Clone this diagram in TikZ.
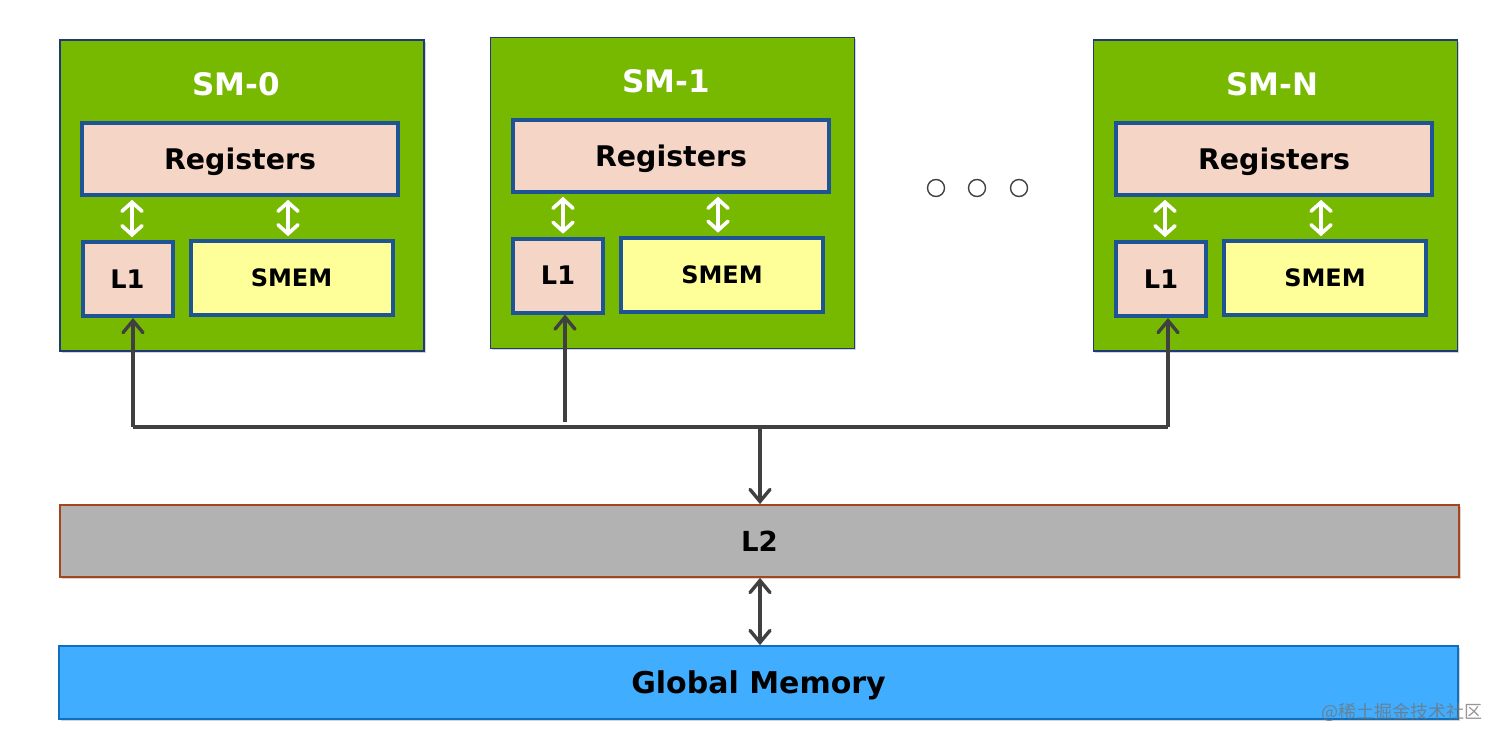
\documentclass[tikz,border=0pt]{standalone}
\usepackage{fontspec}
\setmainfont{DejaVu Sans}
\newfontfamily\cjkfont{Noto Sans CJK SC}
\usetikzlibrary{arrows.meta,shadows}
\definecolor{smgreen}{HTML}{77B900}
\definecolor{smborder}{HTML}{1F3A78}
\definecolor{peach}{HTML}{F5D5C5}
\definecolor{paleyellow}{HTML}{FFFF99}
\definecolor{innerblue}{HTML}{1F5494}
\definecolor{ltwogray}{HTML}{B2B2B2}
\definecolor{ltwoborder}{HTML}{A5451C}
\definecolor{gmblue}{HTML}{41ADFF}
\definecolor{gmborder}{HTML}{1070C0}
\definecolor{darkline}{HTML}{404040}
\tikzset{
  capcentre/.style={text height=#1,text depth=0pt},
  softshadow/.style={drop shadow={shadow xshift=0.9pt,shadow yshift=-0.9pt,opacity=0.28,fill=black!60}},
  smbox/.style={draw=smborder,line width=0.6pt,fill=smgreen,minimum width=182pt,minimum height=155.5pt,inner sep=0pt,softshadow},
  smtitle/.style={text=white,font=\fontsize{15.5}{18}\selectfont\bfseries},
  inner/.style={draw=innerblue,line width=2pt,inner sep=0pt,text=black},
  regbox/.style={inner,fill=peach,minimum width=158pt,minimum height=36pt,capcentre=10.4pt,font=\fontsize{14.2}{17}\selectfont\bfseries},
  lonebox/.style={inner,fill=peach,minimum width=45pt,minimum height=37pt,font=\fontsize{12.8}{15}\selectfont\bfseries},
  smembox/.style={inner,fill=paleyellow,minimum width=101pt,minimum height=37pt,font=\fontsize{12}{14}\selectfont\bfseries},
  whitearr/.style={draw=white,line width=1.8pt,line cap=round,{Straight Barb[length=4.5pt,width=10pt,line cap=round]}-{Straight Barb[length=4.5pt,width=10pt,line cap=round]},shorten <=1.4pt,shorten >=1.4pt},
  darkarr/.style={draw=darkline,line width=1.7pt},
  darkhead/.tip={Straight Barb[length=6pt,width=10pt,line cap=round]},
  darktip/.style={darkarr,-darkhead},
  ringdot/.style={circle,draw=darkline,line width=0.7pt,minimum size=8.5pt,inner sep=0pt},
  wide/.style={minimum width=699.5pt,minimum height=36pt,inner sep=0pt,text=black,font=\fontsize{13.8}{16}\selectfont\bfseries,softshadow}
}
\begin{document}
\begin{tikzpicture}[x=0.5pt,y=-0.5pt]
\useasboundingbox (0,0) rectangle (1507,744);
% SM boxes
\node[smbox] (sm0) at (242,195.5) {};
\node[smbox] (sm1) at (672.5,193) {};
\node[smbox] (smn) at (1275.5,195.5) {};
\node[smtitle] (t0) at (236,84) {SM-0};
\node[smtitle] (t1) at (666,81) {SM-1};
\node[smtitle] (tn) at (1272,84) {SM-N};
% inner boxes SM-0
\node[regbox] (r0) at (240,159) {Registers};
\node[lonebox] (la) at (127.5,279) {L1};
\node[smembox] (sa) at (291.5,278) {SMEM};
% SM-1
\node[regbox] (r1) at (671,156) {Registers};
\node[lonebox] (lb) at (558,275.5) {L1};
\node[smembox] (sb) at (722,274.5) {SMEM};
% SM-N
\node[regbox] (rn) at (1274,159) {Registers};
\node[lonebox] (lc) at (1161,279) {L1};
\node[smembox] (sc) at (1325,278) {SMEM};
% white arrows
\coordinate (wa1) at (132,0); \coordinate (wa2) at (288,0);
\coordinate (wb1) at (563,0); \coordinate (wb2) at (718,0);
\coordinate (wc1) at (1165,0); \coordinate (wc2) at (1321,0);
\draw[whitearr] (r0.south -| wa1) -- (la.north -| wa1);
\draw[whitearr] (r0.south -| wa2) -- (sa.north -| wa2);
\draw[whitearr] (r1.south -| wb1) -- (lb.north -| wb1);
\draw[whitearr] (r1.south -| wb2) -- (sb.north -| wb2);
\draw[whitearr] (rn.south -| wc1) -- (lc.north -| wc1);
\draw[whitearr] (rn.south -| wc2) -- (sc.north -| wc2);
% dots
\node[ringdot] (d1) at (936,188) {};
\node[ringdot] (d2) at (977,188) {};
\node[ringdot] (d3) at (1019,188) {};
% L2 and global memory
\node[wide,draw=ltwoborder,line width=0.9pt,fill=ltwogray] (l2) at (759.5,541) {L2};
\node[wide,draw=gmborder,line width=0.9pt,fill=gmblue,minimum height=36.5pt,capcentre=10.95pt,font=\fontsize{15}{18}\selectfont\bfseries] (gm) at (758.5,682.5) {Global Memory};
% bus
\coordinate (busL) at (133,427);
\coordinate (busM) at (760,427);
\coordinate (busR) at (1168,427);
\coordinate (busB) at (565,422);
\draw[darkarr] (busL) -- (busR);
\draw[darktip] (busL) -- (la.south -| busL);
\draw[darktip] (busB) -- (lb.south -| busB);
\draw[darktip] (busR) -- (lc.south -| busR);
\draw[darktip] (busM) -- (l2.north -| busM);
\draw[darkarr,darkhead-darkhead] (l2.south -| busM) -- (gm.north -| busM);
% watermark
\node[text=black!55,text opacity=0.75,font=\cjkfont\fontsize{9}{11}\selectfont,anchor=east] (wm) at (1490,712) {@稀土掘金技术社区};
\end{tikzpicture}
\end{document}
